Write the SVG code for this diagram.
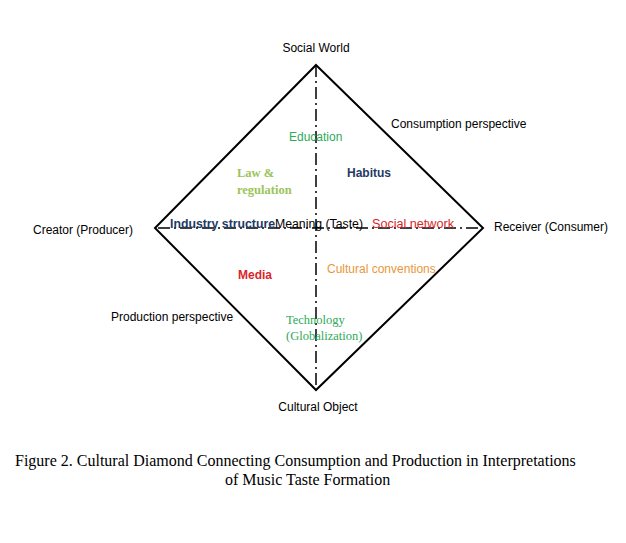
<svg xmlns="http://www.w3.org/2000/svg" width="626" height="543" viewBox="0 0 626 543">
<style>
.l{font-family:"Liberation Sans",Arial,sans-serif;font-size:12px;fill:#000}
.c{font-family:"Liberation Sans",Arial,sans-serif;font-size:12px}
.s{font-family:"Liberation Serif",serif;font-size:12.5px;font-weight:bold}
.t{font-family:"Liberation Serif",serif;font-size:12.5px}
.cap{font-family:"Liberation Serif",serif;font-size:16px;fill:#000}
.dd{stroke:#000;stroke-width:1.5;stroke-dasharray:12,4,2,4;fill:none}
</style>
<rect width="626" height="543" fill="#fff"/>
<g id="connectors">
<polygon points="316,65 483,228 316,390 155,228" fill="none" stroke="#000" stroke-width="2"/>
<line class="dd" x1="316" y1="65" x2="316" y2="390"/>
<line class="dd" x1="158" y1="228" x2="480" y2="228"/>
</g>
<g id="social-world"><text class="l" x="316" y="52" text-anchor="middle">Social World</text></g>
<g id="cultural-object"><text class="l" x="318" y="411" text-anchor="middle">Cultural Object</text></g>
<g id="creator"><text class="l" x="33" y="234">Creator (Producer)</text></g>
<g id="receiver"><text class="l" x="494" y="231">Receiver (Consumer)</text></g>
<g id="consumption"><text class="l" x="391" y="128">Consumption perspective</text></g>
<g id="production"><text class="l" x="111" y="321">Production perspective</text></g>
<g id="education"><text class="c" x="289" y="141" fill="#2eaa5a">Education</text></g>
<g id="law"><text class="s" x="237" y="177" fill="#9ac45a">Law &amp;</text><text class="s" x="237" y="194" fill="#9ac45a">regulation</text></g>
<g id="habitus"><text class="c" x="347" y="177" fill="#1f3a64" font-weight="bold">Habitus</text></g>
<g id="industry"><text class="c" x="170" y="228" fill="#1f3a64" font-weight="bold" textLength="105" lengthAdjust="spacingAndGlyphs">Industry structure</text></g>
<g id="meaning"><text class="c" x="275" y="228" fill="#000" textLength="88" lengthAdjust="spacingAndGlyphs">Meaning (Taste)</text></g>
<g id="social-network"><text class="c" x="372" y="228" fill="#d9262a" textLength="82" lengthAdjust="spacingAndGlyphs">Social network</text></g>
<g id="media"><text class="c" x="238" y="279" fill="#d9262a" font-weight="bold">Media</text></g>
<g id="cultural-conventions"><text class="c" x="327" y="273" fill="#e8973a">Cultural conventions</text></g>
<g id="technology"><text class="t" x="286" y="324" fill="#2eaa5a">Technology</text><text class="t" x="286" y="340" fill="#2eaa5a">(Globalization)</text></g>
<g id="caption"><text class="cap" x="15" y="466">Figure 2. Cultural Diamond Connecting Consumption and Production in Interpretations</text><text class="cap" x="225" y="485">of Music Taste Formation</text></g>
</svg>
